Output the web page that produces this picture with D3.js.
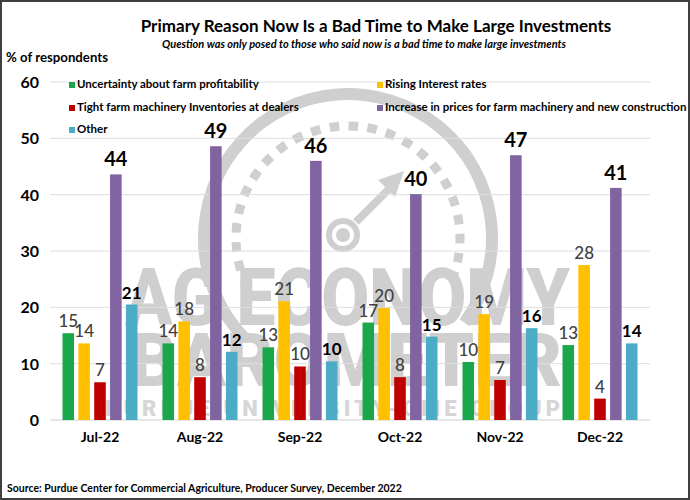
<!DOCTYPE html>
<html><head><meta charset="utf-8">
<script src="https://cdn.jsdelivr.net/npm/d3@7"></script>
<style>body{margin:0;background:#fff}svg{display:block;font-family:Lato,"Open Sans",sans-serif}</style>
</head><body><svg id="c" width="690" height="500"></svg>
<script>
const categories = ["Jul-22","Aug-22","Sep-22","Oct-22","Nov-22","Dec-22"];
const seriesNames = ["Uncertainty about farm profitability","Rising Interest rates","Tight farm machinery Inventories at dealers","Increase in prices for farm machinery and new construction","Other"];
const seriesColors = ["#1AA64A","#FFC000","#C00000","#8064A2","#4BACC6"];
const uncertainty = [15.4,13.6,12.9,17.3,10.3,13.3];
const interest    = [13.6,17.5,21.1,19.9,18.8,27.5];
const inventories = [6.7,7.6,9.5,7.6,7.1,3.8];
const prices      = [43.6,48.6,46.0,40.1,47.0,41.2];
const other       = [20.5,12.1,10.4,14.8,16.3,13.6];
const yTicks = [0,10,20,30,40,50,60];
const seriesValues = [uncertainty,interest,inventories,prices,other];

const svg = d3.select("#c");
const W=690,H=500;
svg.append("rect").attr("x",1).attr("y",1).attr("width",W-2).attr("height",H-2).attr("fill","#fff").attr("stroke","#3f3f3f").attr("stroke-width",2);

const x0 = d3.scaleBand().domain(categories).range([50,650]).paddingInner(0.25).paddingOuter(0.125);
const x1 = d3.scaleBand().domain(d3.range(5)).range([0,x0.bandwidth()]).paddingInner(0.27);
const y = d3.scaleLinear().domain([0,60]).range([420,82]);

// watermark logo (a picture in the reference) built as an embedded image
const wmSvg = d3.create("svg").attr("xmlns","http://www.w3.org/2000/svg").attr("width",W).attr("height",H);
const gray = "#cfcfcf";
const cx=348, cy=238;
wmSvg.append("path").attr("transform",`translate(${cx},${cy})`)
  .attr("d",d3.arc()({innerRadius:138,outerRadius:150,startAngle:-2.35,endAngle:2.2})).attr("fill",gray);
wmSvg.append("path").attr("transform",`translate(${cx},${cy})`)
  .attr("d",d3.arc()({innerRadius:112,outerRadius:112,startAngle:-2.0,endAngle:2.0}))
  .attr("fill","none").attr("stroke",gray).attr("stroke-width",9).attr("stroke-dasharray","6,13");
wmSvg.append("circle").attr("cx",343).attr("cy",235).attr("r",14).attr("fill","none").attr("stroke",gray).attr("stroke-width",6);
wmSvg.append("circle").attr("cx",343).attr("cy",235).attr("r",7).attr("fill",gray);
wmSvg.append("line").attr("x1",356).attr("y1",222).attr("x2",392).attr("y2",186).attr("stroke",gray).attr("stroke-width",8);
wmSvg.append("path").attr("d","M404,171 L378,180 L395,197 Z").attr("fill",gray);
wmSvg.append("text").attr("x",125).attr("y",325).attr("font-family","Roboto").attr("font-size",80).attr("font-weight",900)
  .attr("fill",gray).attr("textLength",445).attr("lengthAdjust","spacingAndGlyphs").text("AG ECONOMY");
wmSvg.append("text").attr("x",130).attr("y",386).attr("font-family","Roboto").attr("font-size",75).attr("font-weight",900)
  .attr("fill",gray).attr("textLength",432).attr("lengthAdjust","spacingAndGlyphs").text("BAROMETER");
wmSvg.append("text").attr("x",105).attr("y",416).attr("font-family","Roboto").attr("font-size",22).attr("font-weight",900)
  .attr("fill","#d6d6d6").attr("textLength",455).attr("lengthAdjust","spacing").text("PURDUE UNIVERSITY-CME GROUP");
const wmStr = new XMLSerializer().serializeToString(wmSvg.node());
svg.append("image").attr("x",0).attr("y",0).attr("width",W).attr("height",H)
  .attr("href","data:image/svg+xml;charset=utf-8,"+encodeURIComponent(wmStr));

// grid
svg.append("g").selectAll("line").data(yTicks).join("line")
  .attr("x1",50).attr("x2",650).attr("y1",d=>y(d)).attr("y2",d=>y(d))
  .attr("stroke",d=>d===0?"#d0d0d0":"#dedede").attr("stroke-width",1);
svg.append("g").selectAll("text").data(yTicks).join("text")
  .attr("x",39).attr("y",d=>y(d)+6).attr("text-anchor","end")
  .attr("font-size",16).attr("font-weight",700).attr("fill","#000").text(d=>d);

// bars
const g = svg.append("g");
categories.forEach((c,ci)=>{
  seriesValues.forEach((vals,si)=>{
    const v = vals[ci];
    const bx = x0(c)+x1(si);
    g.append("rect").attr("x",bx).attr("y",y(v)).attr("width",x1.bandwidth()).attr("height",y(0)-y(v)).attr("fill",seriesColors[si]);
    const big = si===3, blk = si>=3;
    g.append("text").attr("x",bx+x1.bandwidth()/2).attr("y",y(v)-(big?8:6))
      .attr("text-anchor","middle").attr("font-size",big?20:17)
      .attr("font-weight",blk?700:500).attr("fill",blk?"#000":"#404040")
      .text(Math.round(v));
  });
});

// x labels
svg.append("g").selectAll("text").data(categories).join("text")
  .attr("x",d=>x0(d)+x0.bandwidth()/2).attr("y",442).attr("text-anchor","middle")
  .attr("font-size",14).attr("font-weight",700).attr("fill","#000").text(d=>d);

// legend
const legPos = [[69,88],[377,88],[69,111],[377,111],[69,133]];
const leg = svg.append("g");
seriesNames.forEach((n,i)=>{
  const [lx,ly]=legPos[i];
  leg.append("rect").attr("x",lx).attr("y",ly-6).attr("width",6).attr("height",6).attr("fill",seriesColors[i]);
  leg.append("text").attr("x",lx+8).attr("y",ly).attr("font-size",11.5).attr("font-weight",700).attr("fill","#000").text(n);
});

// titles
svg.append("text").attr("x",376).attr("y",32).attr("text-anchor","middle").attr("font-size",17).attr("font-weight",700).attr("fill","#000").text("Primary Reason Now Is a Bad Time to Make Large Investments");
svg.append("text").attr("x",364).attr("y",48).attr("text-anchor","middle").attr("font-size",11).attr("font-weight",700).attr("font-style","italic").attr("fill","#000").text("Question was only posed to those who said now is a bad time to make large investments");
svg.append("text").attr("x",6).attr("y",62).attr("font-size",13).attr("font-weight",700).attr("fill","#000")
  .attr("textLength",102).attr("lengthAdjust","spacingAndGlyphs").text("% of respondents");
svg.append("text").attr("x",7).attr("y",492).attr("font-size",10.5).attr("font-weight",700).attr("fill","#000").text("Source: Purdue Center for Commercial Agriculture, Producer Survey, December 2022");
</script></body></html>
